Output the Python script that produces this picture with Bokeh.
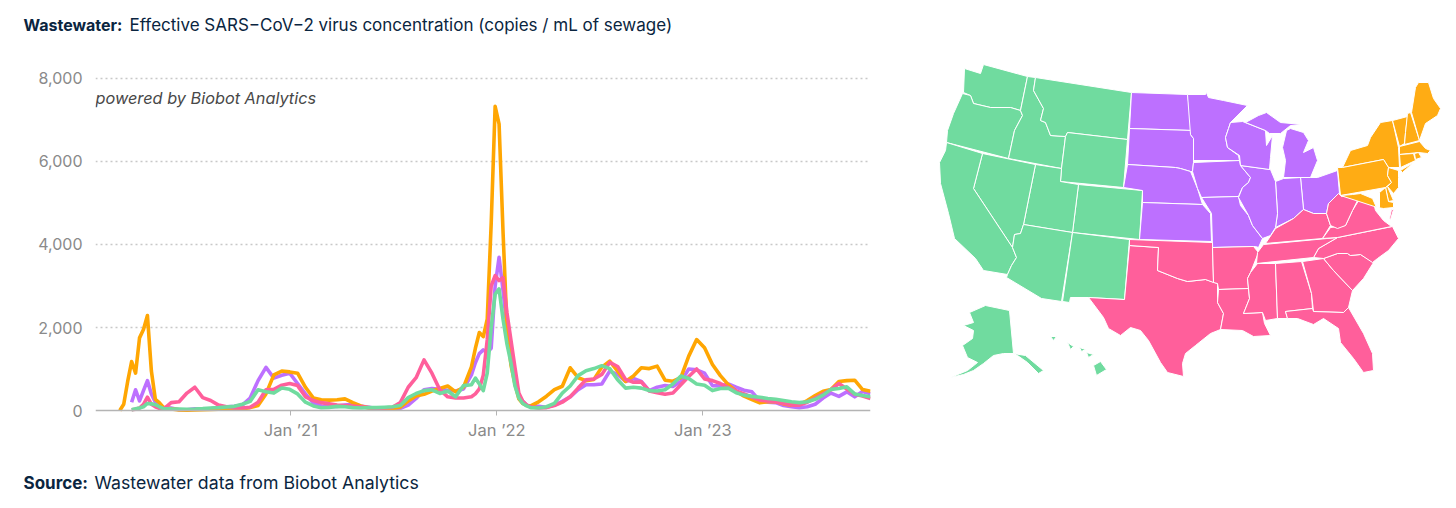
import pandas as pd

from bokeh.embed import file_html
from bokeh.layouts import column, row
from bokeh.models import ColumnDataSource, FixedTicker, Label, Range1d, Span
from bokeh.plotting import figure
from bokeh.resources import INLINE

nan = float("nan")

# Week numbers counted from the first sample; weekly around the two sharp peaks
START = pd.Timestamp("2020-03-04")
weeks = list(range(0, 12)) + list(range(13, 88, 2)) + list(range(89, 105)) + list(range(106, 191, 2))
dates = [START + pd.Timedelta(weeks=w) for w in weeks]

northeast = [0, 150, 700, 1180, 900, 1750, 1950, 2290, 950, 270, 190, 80,
             40, 15, 10, 15, 20, 25, 30, 35, 40, 45, 70, 120, 400, 860, 950, 930, 900, 560, 300, 260, 250, 260, 280,
             190, 110, 60, 50, 45, 50, 80, 230, 350, 390, 470, 530, 590, 450, 560,
             1050, 1500, 1880, 1780, 2200, 4500, 7330, 6900, 4300, 2000, 1100, 650, 280, 170, 120, 110,
             210, 345, 505, 585, 1030, 790, 720, 750, 1045, 1190, 950, 700, 830, 1030, 1010, 1070, 730, 705, 790,
             1310, 1710, 1510, 1110, 840, 625, 465, 345, 265, 185, 210, 210, 160, 130, 145, 240, 360, 465, 505, 700,
             720, 730, 505, 465]
midwest = [nan, nan, nan, 200, 500, 230, 480, 720, 400, 200, 130, 60,
           60, 20, 20, 40, 30, 40, 70, 90, 100, 130, 300, 720, 1040, 780, 850, 900, 650, 400, 180, 110, 90, 100, 130,
           150, 110, 80, 50, 30, 30, 50, 130, 290, 500, 530, 510, 490, 470, 520,
           860, 1150, 1370, 1460, 1400, 1500, 3000, 3690, 2890, 2000, 1300, 750, 350, 220, 130, 90,
           100, 80, 130, 220, 330, 500, 620, 620, 640, 950, 870, 700, 770, 700, 480, 560, 600, 580, 700,
           1000, 980, 900, 600, 590, 640, 560, 490, 450, 230, 200, 190, 120, 90, 70, 90, 150, 300, 420, 340,
           450, 330, 460, 400]
south = [nan, nan, nan, 20, 30, 60, 150, 320, 150, 90, 50, 30,
         190, 210, 420, 560, 310, 240, 130, 90, 60, 60, 80, 200, 500, 510, 610, 650, 600, 330, 240, 190, 160, 130, 120,
         110, 90, 70, 50, 60, 80, 190, 560, 790, 1220, 900, 500, 330, 300, 300,
         330, 400, 520, 850, 1700, 3000, 3250, 3130, 3200, 2350, 1700, 1050, 420, 220, 130, 90,
         60, 70, 120, 200, 330, 540, 740, 760, 870, 1160, 1060, 750, 680, 690, 470, 430, 390, 420, 620,
         820, 1000, 760, 720, 650, 560, 470, 400, 320, 250, 230, 210, 170, 130, 130, 200, 300, 400, 500, 650,
         520, 390, 350, 290]
west = [nan, nan, nan, 20, 40, 60, 90, 170, 160, 140, 90, 50,
        40, 35, 30, 35, 45, 60, 70, 85, 100, 150, 220, 500, 450, 420, 540, 510, 400, 200, 110, 65, 75, 100, 90,
        70, 60, 70, 70, 80, 90, 120, 310, 410, 480, 500, 410, 470, 330, 600,
        620, 780, 640, 480, 900, 2000, 2800, 2930, 2200, 1600, 1150, 600, 300, 170, 110, 70,
        60, 90, 170, 420, 590, 840, 960, 1010, 1080, 1010, 740, 540, 560, 540, 480, 470, 500, 640, 830,
        770, 640, 610, 480, 530, 540, 430, 370, 340, 320, 290, 270, 240, 210, 190, 210, 270, 370, 510, 530,
        570, 400, 360, 330]

y_ticks = [0, 2000, 4000, 6000, 8000]
x_tick_dates = ["2021-01-01", "2022-01-01", "2023-01-01"]
x_tick_labels = ["Jan ’21", "Jan ’22", "Jan ’23"]

ORANGE = "#ffa602"
PURPLE = "#bd70ff"
PINK = "#ff5f9b"
GREEN = "#70db9f"
NAVY = "#0a2540"

# State outlines in page pixels
west_states = [
    [(964, 68), (980, 73), (983, 64), (1027, 76), (1020, 110), (1010, 107), (990, 107), (973, 103), (970, 95), (963, 92)],
    [(962, 93), (970, 95), (973, 103), (990, 107), (1010, 107), (1020, 110), (1022, 115), (1014, 130), (1008, 158), (946, 142), (947, 130), (953, 113)],
    [(1027, 76), (1035, 77), (1033, 90), (1043, 108), (1040, 120), (1045, 122), (1050, 135), (1065, 136), (1061, 168), (1008, 158), (1014, 130), (1022, 115), (1020, 110)],
    [(1035, 77), (1131, 92), (1127, 139), (1067, 132), (1065, 136), (1050, 135), (1045, 122), (1040, 120), (1043, 108), (1033, 90)],
    [(1067, 132), (1127, 139), (1123, 187), (1060, 181), (1061, 168), (1065, 136)],
    [(1078, 184), (1142, 190), (1139, 239), (1072, 232)],
    [(1035, 164), (1061, 168), (1060, 181), (1078, 184), (1072, 232), (1023, 224)],
    [(982, 153), (1035, 164), (1023, 224), (1020, 233), (1014, 234), (1012, 247), (973, 188)],
    [(946, 142), (982, 153), (973, 188), (1012, 247), (1016, 257), (1011, 265), (1007, 274), (983, 270), (975, 258), (954, 238), (948, 213), (940, 183), (939, 162), (945, 150)],
    [(1023, 224), (1072, 232), (1061, 301), (1041, 298), (1006, 277), (1007, 274), (1011, 265), (1016, 257), (1012, 247), (1014, 234), (1020, 233)],
    [(1072, 232), (1129, 239), (1124, 299), (1088, 297), (1070, 297), (1069, 302), (1062, 301)],
    [(985, 305), (1009, 310), (1013, 353), (1003, 353), (993, 355), (983, 363), (973, 370), (963, 374), (950, 377), (967, 370), (977, 362), (967, 357), (962, 345), (972, 338), (973, 330), (963, 325), (973, 322), (969, 312)],
    [(1013, 353), (1025, 355), (1043, 370), (1038, 373), (1027, 362), (1017, 355)],
    [(1093, 365), (1100, 361), (1106, 369), (1096, 375)],
    [(1067, 342), (1073, 346), (1070, 349)],
    [(1050, 336), (1056, 336), (1053, 340)],
    [(1086, 352), (1093, 354), (1088, 357)],
    [(1079, 347), (1085, 349), (1081, 351)],
]
midwest_states = [
    [(1131, 92), (1187, 94), (1192, 130), (1129, 128)],
    [(1129, 128), (1192, 130), (1190, 134), (1193, 138), (1193, 162), (1192, 171), (1190, 171), (1180, 168), (1175, 167), (1127, 164)],
    [(1127, 164), (1175, 167), (1180, 168), (1190, 171), (1197, 188), (1202, 204), (1142, 202), (1142, 190), (1123, 187)],
    [(1142, 202), (1202, 204), (1210, 213), (1211, 241), (1139, 239)],
    [(1187, 94), (1205, 94), (1205, 90), (1208, 97), (1223, 100), (1247, 105), (1230, 122), (1228, 128), (1225, 137), (1227, 147), (1238, 155), (1239, 160), (1193, 160), (1193, 138), (1190, 134)],
    [(1193, 162), (1239, 160), (1240, 165), (1250, 177), (1248, 182), (1242, 187), (1238, 196), (1201, 197), (1197, 188), (1192, 171)],
    [(1201, 197), (1238, 196), (1240, 205), (1248, 215), (1252, 225), (1262, 238), (1258, 247), (1255, 246), (1212, 247), (1211, 213)],
    [(1300, 177), (1317, 177), (1337, 170), (1339, 193), (1328, 203), (1326, 213), (1313, 213), (1303, 209)],
    [(1275, 181), (1283, 178), (1300, 177), (1303, 209), (1293, 218), (1275, 227), (1277, 213)],
    [(1240, 165), (1270, 169), (1275, 181), (1277, 213), (1275, 227), (1270, 235), (1262, 238), (1252, 225), (1248, 215), (1238, 197), (1242, 187), (1248, 182), (1250, 177)],
    [(1225, 137), (1228, 128), (1230, 122), (1242, 121), (1265, 130), (1266, 145), (1272, 135), (1270, 157), (1269, 169), (1240, 165), (1239, 155), (1227, 147)],
    [(1245, 122), (1258, 115), (1266, 112), (1280, 122), (1302, 124), (1290, 125), (1280, 133), (1269, 133), (1265, 130)],
    [(1283, 177), (1285, 160), (1282, 147), (1286, 130), (1290, 128), (1303, 132), (1308, 140), (1303, 152), (1313, 147), (1317, 160), (1310, 177)],
]
south_states = [
    [(1129, 245), (1158, 247), (1157, 270), (1177, 278), (1187, 281), (1205, 279), (1217, 283), (1217, 302), (1223, 313), (1220, 329), (1210, 333), (1195, 345), (1185, 353), (1182, 363), (1183, 376), (1167, 372), (1160, 362), (1148, 340), (1140, 330), (1130, 327), (1120, 335), (1108, 328), (1103, 317), (1088, 297), (1124, 299)],
    [(1129, 239), (1212, 242), (1213, 282), (1205, 279), (1187, 281), (1177, 278), (1157, 270), (1158, 247), (1129, 245)],
    [(1212, 247), (1253, 246), (1258, 252), (1250, 272), (1247, 278), (1248, 288), (1218, 289), (1217, 283), (1213, 282)],
    [(1218, 289), (1248, 288), (1249, 298), (1243, 313), (1262, 312), (1264, 323), (1270, 335), (1253, 336), (1242, 330), (1220, 329), (1223, 313), (1217, 302)],
    [(1257, 263), (1275, 263), (1277, 318), (1265, 320), (1262, 312), (1243, 313), (1249, 298), (1247, 278), (1250, 272)],
    [(1275, 263), (1301, 261), (1311, 293), (1312, 308), (1285, 311), (1287, 318), (1277, 318)],
    [(1302, 261), (1323, 258), (1333, 270), (1352, 290), (1348, 307), (1343, 312), (1313, 311), (1311, 293)],
    [(1285, 311), (1312, 308), (1313, 311), (1343, 312), (1348, 307), (1363, 333), (1372, 353), (1373, 370), (1363, 372), (1353, 358), (1340, 342), (1338, 328), (1323, 318), (1313, 324), (1297, 318), (1287, 318)],
    [(1323, 258), (1337, 253), (1347, 253), (1350, 255), (1360, 254), (1373, 262), (1363, 278), (1352, 290), (1333, 270)],
    [(1392, 226), (1398, 238), (1388, 250), (1377, 258), (1372, 262), (1360, 254), (1350, 255), (1347, 253), (1337, 253), (1323, 258), (1313, 257), (1318, 248), (1337, 237)],
    [(1263, 244), (1337, 237), (1318, 248), (1313, 257), (1256, 263), (1257, 252)],
    [(1265, 243), (1275, 228), (1293, 218), (1303, 209), (1313, 213), (1326, 213), (1330, 225), (1322, 238)],
    [(1322, 238), (1330, 227), (1345, 225), (1352, 210), (1360, 197), (1372, 198), (1375, 210), (1383, 220), (1391, 226), (1337, 237)],
    [(1326, 213), (1328, 203), (1338, 193), (1341, 196), (1352, 195), (1360, 194), (1352, 210), (1345, 225), (1337, 228), (1330, 225)],
    [(1391, 209), (1393, 209), (1390, 219), (1389, 218)],
]
northeast_states = [
    [(1342, 167), (1350, 150), (1367, 145), (1370, 137), (1380, 122), (1392, 120), (1398, 147), (1399, 167), (1388, 167), (1383, 159)],
    [(1400, 170), (1413, 162), (1402, 172)],
    [(1337, 167), (1342, 167), (1383, 159), (1388, 167), (1387, 175), (1391, 182), (1385, 187), (1340, 195)],
    [(1388, 167), (1398, 170), (1398, 177), (1398, 187), (1393, 193), (1387, 186), (1391, 182), (1387, 175)],
    [(1385, 187), (1387, 186), (1393, 200), (1388, 201)],
    [(1340, 195), (1352, 194), (1360, 193), (1372, 198), (1376, 207), (1379, 207), (1379, 192), (1385, 187), (1388, 201), (1393, 202), (1393, 207), (1383, 208), (1377, 207)],
    [(1392, 120), (1407, 116), (1405, 132), (1404, 143), (1399, 146)],
    [(1407, 113), (1410, 112), (1419, 140), (1404, 144), (1405, 132)],
    [(1411, 112), (1415, 87), (1418, 82), (1428, 82), (1433, 98), (1440, 108), (1437, 115), (1425, 123), (1419, 140)],
    [(1399, 146), (1419, 141), (1425, 148), (1430, 150), (1427, 153), (1418, 152), (1399, 154)],
    [(1399, 154), (1413, 153), (1415, 160), (1400, 167)],
    [(1414, 153), (1418, 152), (1421, 157), (1415, 159)],
]


def add_text(fig, text, x, y, bold=False, italic=False, color=NAVY, size="17px"):
    style = "bold" if bold else ("italic" if italic else "normal")
    fig.add_layout(Label(x=x, y=y, x_units="screen", y_units="screen", text=text, text_font="Inter",
                         text_font_size=size, text_font_style=style, text_color=color, text_baseline="middle"))


# A strip of text above and below the charts: labels get cut off outside a frame
def text_strip(height):
    strip = figure(width=1450, height=height, output_backend="svg", toolbar_location=None, min_border=0,
                   x_range=Range1d(0, 1), y_range=Range1d(0, 1), x_axis_location=None, y_axis_location=None)
    strip.grid.visible = False
    strip.outline_line_color = None
    return strip


top = text_strip(54)
add_text(top, "Wastewater:", 23, 30, bold=True, size="16px")
add_text(top, "Effective SARS−CoV−2 virus concentration (copies / mL of sewage)", 129, 30)

bottom = text_strip(52)
add_text(bottom, "Source:", 23, 18, bold=True, size="17px")
add_text(bottom, "Wastewater data from Biobot Analytics", 94, 18, size="17.7px")

# Chart
p = figure(width=890, height=394, x_axis_type="datetime", output_backend="svg", toolbar_location=None,
           x_range=Range1d(pd.Timestamp("2020-01-21"), pd.Timestamp("2023-10-25")),
           y_range=Range1d(-48, 8578), min_border_left=95, min_border_right=20, min_border_top=0, min_border_bottom=36)
p.outline_line_color = None

p.add_layout(Span(location=0, dimension="width", line_color="#b4b4b4", line_width=1.5))

source = ColumnDataSource(dict(date=dates, northeast=northeast, midwest=midwest, south=south, west=west))
for name, color in [("midwest", PURPLE), ("northeast", ORANGE), ("south", PINK), ("west", GREEN)]:
    p.line("date", name, source=source, color=color, line_width=3.6, line_join="round")

tick_ms = [pd.Timestamp(d).timestamp() * 1000 for d in x_tick_dates]
p.xaxis.ticker = FixedTicker(ticks=tick_ms)
p.xaxis.major_label_overrides = dict(zip(tick_ms, x_tick_labels))
p.xaxis.minor_tick_line_color = None
p.xaxis.axis_line_color = None
p.xaxis.major_tick_line_color = "#b4b4b4"
p.xaxis.major_tick_in = 2
p.xaxis.major_tick_out = 3
p.xaxis.major_label_standoff = 4
p.xaxis.major_label_text_font = "Inter"
p.xaxis.major_label_text_font_size = "16.5px"
p.xaxis.major_label_text_color = "#8a8a8a"

p.yaxis.ticker = FixedTicker(ticks=y_ticks)
p.yaxis.axis_line_color = None
p.yaxis.major_tick_line_color = None
p.yaxis.minor_tick_line_color = None
p.yaxis.major_label_standoff = 7
p.yaxis.major_label_text_font = "Inter"
p.yaxis.major_label_text_font_size = "16px"
p.yaxis.major_label_text_color = "#8a8a8a"
p.yaxis.major_label_overrides = {v: f"{v:,}" for v in y_ticks}

p.xgrid.grid_line_color = None
p.ygrid.ticker = FixedTicker(ticks=y_ticks[1:])
p.ygrid.grid_line_color = "#c8c8c8"
p.ygrid.grid_line_dash = [2, 3]
p.ygrid.grid_line_width = 1.4

add_text(p, "powered by Biobot Analytics", 0, 315, italic=True, color="#484848", size="16.3px")

# Map, drawn in page pixels; a row lines up the frames, so the y range follows the chart's frame
m = figure(width=560, height=394, output_backend="svg", toolbar_location=None,
           x_range=Range1d(890, 1450), y_range=Range1d(412, 54),
           min_border_left=0, min_border_right=0, min_border_top=0, min_border_bottom=36)
m.axis.visible = False
m.grid.visible = False
m.outline_line_color = None
for outlines, color in [(west_states, GREEN), (midwest_states, PURPLE), (south_states, PINK), (northeast_states, "#ffac14")]:
    m.patches([[pt[0] for pt in o] for o in outlines], [[pt[1] for pt in o] for o in outlines],
              fill_color=color, line_color="white", line_width=1)

layout = column(top, row(p, m), bottom, spacing=0)
open("out.html", "w").write(file_html(layout, INLINE))
